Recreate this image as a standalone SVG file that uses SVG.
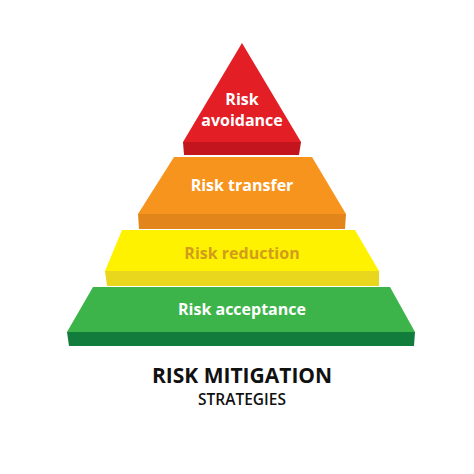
<svg xmlns="http://www.w3.org/2000/svg" width="474" height="474" viewBox="0 0 474 474">
<style>
.lbl{font-family:"Open Sans","Liberation Sans",sans-serif;font-weight:700;font-size:16px;text-anchor:middle;fill:#ffffff}
.title{font-family:"Open Sans","Liberation Sans",sans-serif;text-anchor:middle;fill:#111111}
</style>
<rect width="474" height="474" fill="#ffffff"/>
<g id="green">
<polygon points="93,287 390,287 415,332 67,332" fill="#3cb44a"/>
<polygon points="67,332 415,332 414,346 69,346" fill="#117c3c"/>
<text class="lbl" x="242" y="315">Risk acceptance</text>
</g>
<g id="yellow">
<polygon points="122,230 355,230 379,271 105,271" fill="#fff200"/>
<polygon points="105,271 379,271 379,286 107,286" fill="#e8d71c"/>
<text class="lbl" x="242" y="259" style="fill:#d29c1c">Risk reduction</text>
</g>
<g id="orange">
<polygon points="174,157 312,157 346,214 138,214" fill="#f7941d"/>
<polygon points="138,214 346,214 345,229 139,229" fill="#e2861b"/>
<text class="lbl" x="242" y="191">Risk transfer</text>
</g>
<g id="red">
<polygon points="242,43 301,142 183,142" fill="#e31e25"/>
<polygon points="183,142 301,142 299,155 184,155" fill="#c2151d"/>
<text class="lbl" x="242" y="105">Risk</text>
<text class="lbl" x="242" y="126">avoidance</text>
</g>
<g id="connectors"></g>
<text class="title" x="242" y="383" style="font-size:21px;font-weight:700">RISK MITIGATION</text>
<text class="title" x="242" y="405" style="font-size:15.5px;font-weight:600">STRATEGIES</text>
</svg>
